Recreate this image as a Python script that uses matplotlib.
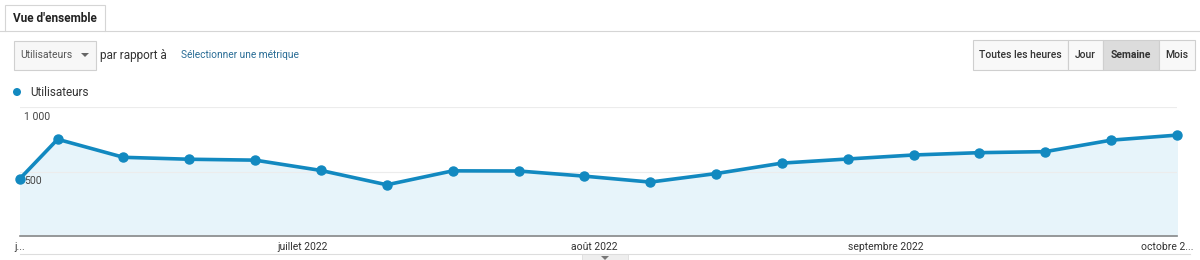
import matplotlib
matplotlib.use("Agg")
import matplotlib.pyplot as plt
from matplotlib.patches import Rectangle, Circle, Polygon

plt.rcParams['font.family'] = ['Roboto', 'DejaVu Sans']

# Data: weekly users (days counted from 1 June 2022)
days = [0, 4, 11, 18, 25, 32, 39, 46, 53, 60, 67, 74, 81, 88, 95, 102, 109, 116, 123]
users = [445, 750, 610, 595, 588, 508, 397, 505, 504, 464, 418, 484, 565, 597, 628, 646, 654, 743, 782]
month_days = [0, 30, 61, 92, 122]
month_labels = ["j...", "juillet 2022", "août 2022", "septembre 2022", "octobre 2..."]
ytick_vals = [500, 1000]
ytick_labels = ["500", "1 000"]

blue = "#1289c0"
W, H = 1200, 260

fig = plt.figure(figsize=(12, 2.6), dpi=100)

# overlay for the page chrome, in pixel coords
ui = fig.add_axes([0, 0, 1, 1])
ui.set_xlim(0, W)
ui.set_ylim(H, 0)
ui.axis("off")

# tab
ui.add_patch(Rectangle((5, 5), 100, 26, fc="white", ec="#d5d5d5", lw=0.8))
ui.plot([0, 5], [30.5, 30.5], color="#d5d5d5", lw=0.8)
ui.plot([105, W], [30.5, 30.5], color="#d5d5d5", lw=0.8)
ui.text(13, 18, "Vue d'ensemble", fontsize=8.5, fontweight="bold", color="#222", va="center")

# metric dropdown
ui.add_patch(Rectangle((13.5, 40.5), 82, 29, fc="#f7f7f7", ec="#d0d0d0", lw=0.8))
ui.text(20, 55, "Utilisateurs", fontsize=7.5, color="#555", va="center")
ui.add_patch(Polygon([[81, 53], [89, 53], [85, 57]], closed=True, fc="#666", ec="none"))
ui.text(100, 55, "par rapport à", fontsize=8.5, color="#333", va="center")
ui.text(181, 55, "Sélectionner une métrique", fontsize=7.3, color="#2a6d96", va="center")

# period buttons
buttons = [("Toutes les heures", 973, 1068), ("Jour", 1068, 1103), ("Semaine", 1103, 1159), ("Mois", 1159, 1195)]
for lab, x0, x1 in buttons:
    sel = lab == "Semaine"
    ui.add_patch(Rectangle((x0, 39.5), x1 - x0, 30, fc="#dcdcdc" if sel else "#f8f8f8",
                           ec="#cfcfcf", lw=0.8))
    ui.text((x0 + x1) / 2, 55, lab, fontsize=7.5, color="#333", fontweight="bold" if sel else "medium",
            ha="center", va="center")

# legend
ui.add_patch(Circle((17, 92), 4, fc=blue, ec="none"))
ui.text(30, 92, "Utilisateurs", fontsize=8.5, color="#333", va="center")

# bottom strip
ui.plot([20, 1190], [253.5, 253.5], color="#dddddd", lw=0.8)
ui.add_patch(Rectangle((582, 254), 46, 8, fc="#eeeeee", ec="#dddddd", lw=0.6))
ui.add_patch(Polygon([[601, 256], [609, 256], [605, 260]], closed=True, fc="#777", ec="none"))

# chart area
left, right, top, bottom = 20, 1177, 107, 236
ax = fig.add_axes([left / W, (H - bottom) / H, (right - left) / W, (bottom - top) / H])
ax.set_xlim(days[0], days[-1])
ax.set_ylim(0, 1000)
ax.fill_between(days, users, 0, color="#e7f4fa", zorder=1)
ax.plot(days, users, color=blue, lw=2.6, marker="o", ms=6.5, zorder=3, clip_on=False)
for v in ytick_vals:
    ax.axhline(v, color="#ececec", lw=0.8, zorder=2)
for v, lab in zip(ytick_vals, ytick_labels):
    ax.text(4 / 9.4, v - 35, lab, fontsize=7.5, color="#444", va="top", ha="left", zorder=4)
ax.set_yticks([])
ax.set_xticks([])
for s in ["top", "left", "right"]:
    ax.spines[s].set_visible(False)
ax.spines["bottom"].set_color("#888")
ax.spines["bottom"].set_linewidth(1.2)
for d, lab in zip(month_days, month_labels):
    ax.annotate(lab, (d, 0), xytext=(0, -4), textcoords="offset points", ha="center", va="top",
                fontsize=7.5, color="#333", annotation_clip=False)
ax.patch.set_alpha(0)

fig.savefig("out.png", dpi=100)
